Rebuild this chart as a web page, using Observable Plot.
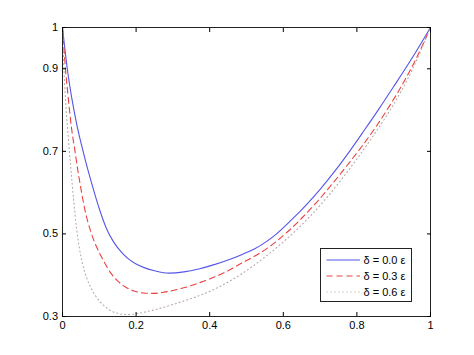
<!DOCTYPE html>
<html>
<head>
<meta charset="utf-8">
<script src="https://cdn.jsdelivr.net/npm/d3@7"></script>
<script src="https://cdn.jsdelivr.net/npm/@observablehq/plot@0.6"></script>
<style>
  html, body { margin: 0; padding: 0; background: white; }
  #wrap { position: relative; width: 474px; height: 355px; }
  #legend { position: absolute; left: 320px; top: 248px; }
</style>
</head>
<body>
<div id="wrap"></div>
<script>
// Tick values
const xTicks = [0, 0.2, 0.4, 0.6, 0.8, 1];
const yTicks = [0.3, 0.5, 0.7, 0.9, 1];

// Series labels and styles
const seriesLabels = ["δ = 0.0 ε", "δ = 0.3 ε", "δ = 0.6 ε"];
const seriesColors = ["#5555ea", "#ec4040", "#b8a6a6"];
const seriesDash = [null, "6,4", "1,3"];

// δ = 0.0 ε
const x0 = [0, 0.013, 0.025, 0.04, 0.056, 0.07, 0.085, 0.10, 0.12, 0.14, 0.16, 0.18, 0.20, 0.22, 0.25, 0.29, 0.33, 0.37, 0.41, 0.45, 0.49, 0.52, 0.55, 0.58, 0.62, 0.66, 0.70, 0.74, 0.78, 0.82, 0.86, 0.90, 0.95, 1];
const y0 = [1, 0.90, 0.83, 0.76, 0.70, 0.652, 0.605, 0.561, 0.512, 0.479, 0.456, 0.439, 0.427, 0.419, 0.411, 0.405, 0.408, 0.415, 0.425, 0.437, 0.451, 0.463, 0.479, 0.499, 0.532, 0.568, 0.608, 0.652, 0.70, 0.751, 0.803, 0.857, 0.926, 1];

// δ = 0.3 ε
const x3 = [0, 0.008, 0.015, 0.024, 0.034, 0.042, 0.051, 0.06, 0.068, 0.076, 0.088, 0.10, 0.112, 0.13, 0.149, 0.17, 0.194, 0.22, 0.245, 0.27, 0.30, 0.35, 0.40, 0.45, 0.49, 0.53, 0.57, 0.61, 0.65, 0.69, 0.73, 0.77, 0.81, 0.85, 0.89, 0.93, 0.965, 1];
const y3 = [1, 0.90, 0.835, 0.76, 0.70, 0.652, 0.605, 0.562, 0.532, 0.508, 0.478, 0.455, 0.434, 0.407, 0.387, 0.372, 0.362, 0.357, 0.356, 0.358, 0.363, 0.375, 0.391, 0.411, 0.431, 0.45, 0.474, 0.504, 0.538, 0.576, 0.618, 0.662, 0.708, 0.757, 0.812, 0.872, 0.932, 1];

// δ = 0.6 ε
const x6 = [0, 0.004, 0.01, 0.016, 0.022, 0.03, 0.038, 0.045, 0.055, 0.065, 0.076, 0.09, 0.103, 0.117, 0.131, 0.15, 0.167, 0.185, 0.203, 0.23, 0.258, 0.285, 0.312, 0.345, 0.376, 0.415, 0.457, 0.49, 0.525, 0.56, 0.598, 0.635, 0.67, 0.72, 0.765, 0.81, 0.856, 0.90, 0.95, 1];
const y6 = [1, 0.90, 0.80, 0.73, 0.665, 0.585, 0.515, 0.47, 0.425, 0.395, 0.372, 0.35, 0.335, 0.323, 0.314, 0.308, 0.305, 0.305, 0.307, 0.312, 0.318, 0.325, 0.3325, 0.342, 0.352, 0.367, 0.387, 0.405, 0.427, 0.451, 0.479, 0.509, 0.54, 0.59, 0.64, 0.694, 0.753, 0.814, 0.897, 1];

const seriesX = [x0, x3, x6];
const seriesY = [y0, y3, y6];

const data = [];
seriesX.forEach((xs, s) => xs.forEach((x, i) => data.push({series: seriesLabels[s], x, y: seriesY[s][i]})));

const lineMarks = seriesLabels.map((lab, s) =>
  Plot.line(data.filter(d => d.series === lab), {
    x: "x", y: "y", stroke: seriesColors[s], strokeWidth: 1.1,
    strokeDasharray: seriesDash[s], curve: "monotone-x"
  })
);

const chart = Plot.plot({
  width: 474, height: 355,
  marginLeft: 62, marginRight: 44, marginTop: 27, marginBottom: 39,
  x: {domain: [0, 1]},
  y: {domain: [0.3, 1]},
  style: {fontFamily: "'Liberation Sans', Arial, sans-serif", fontSize: "11px", color: "black", background: "white"},
  marks: [
    ...lineMarks,
    Plot.frame({stroke: "#222", strokeWidth: 1}),
    Plot.axisX(xTicks, {anchor: "bottom", tickSize: -4, tickPadding: 9, label: null, tickFormat: d => String(d)}),
    Plot.axisX(xTicks, {anchor: "top", tickSize: -4, label: null, tickFormat: () => ""}),
    Plot.axisY(yTicks, {anchor: "left", tickSize: -4, tickPadding: 8.5, label: null, tickFormat: d => String(d)}),
    Plot.axisY(yTicks, {anchor: "right", tickSize: -4, label: null, tickFormat: () => ""})
  ]
});

const wrap = document.getElementById("wrap");
wrap.appendChild(chart);

// Legend
const lw = 92, lh = 54;
const leg = d3.create("svg").attr("id", "legend").attr("width", lw).attr("height", lh)
  .style("font-family", "'Liberation Sans', Arial, sans-serif").style("font-size", "11px");
leg.append("rect").attr("x", 0.5).attr("y", 0.5).attr("width", lw - 1).attr("height", lh - 1)
  .attr("fill", "white").attr("stroke", "#222");
seriesLabels.forEach((lab, s) => {
  const cy = 12 + s * 16;
  const ln = leg.append("line").attr("x1", 6.5).attr("x2", 40).attr("y1", cy).attr("y2", cy)
    .attr("stroke", seriesColors[s]).attr("stroke-width", 1.1);
  if (seriesDash[s]) ln.attr("stroke-dasharray", seriesDash[s]);
  leg.append("text").attr("x", 43.5).attr("y", cy).attr("dy", "0.35em").attr("fill", "black").text(lab);
});
wrap.appendChild(leg.node());
</script>
</body>
</html>
